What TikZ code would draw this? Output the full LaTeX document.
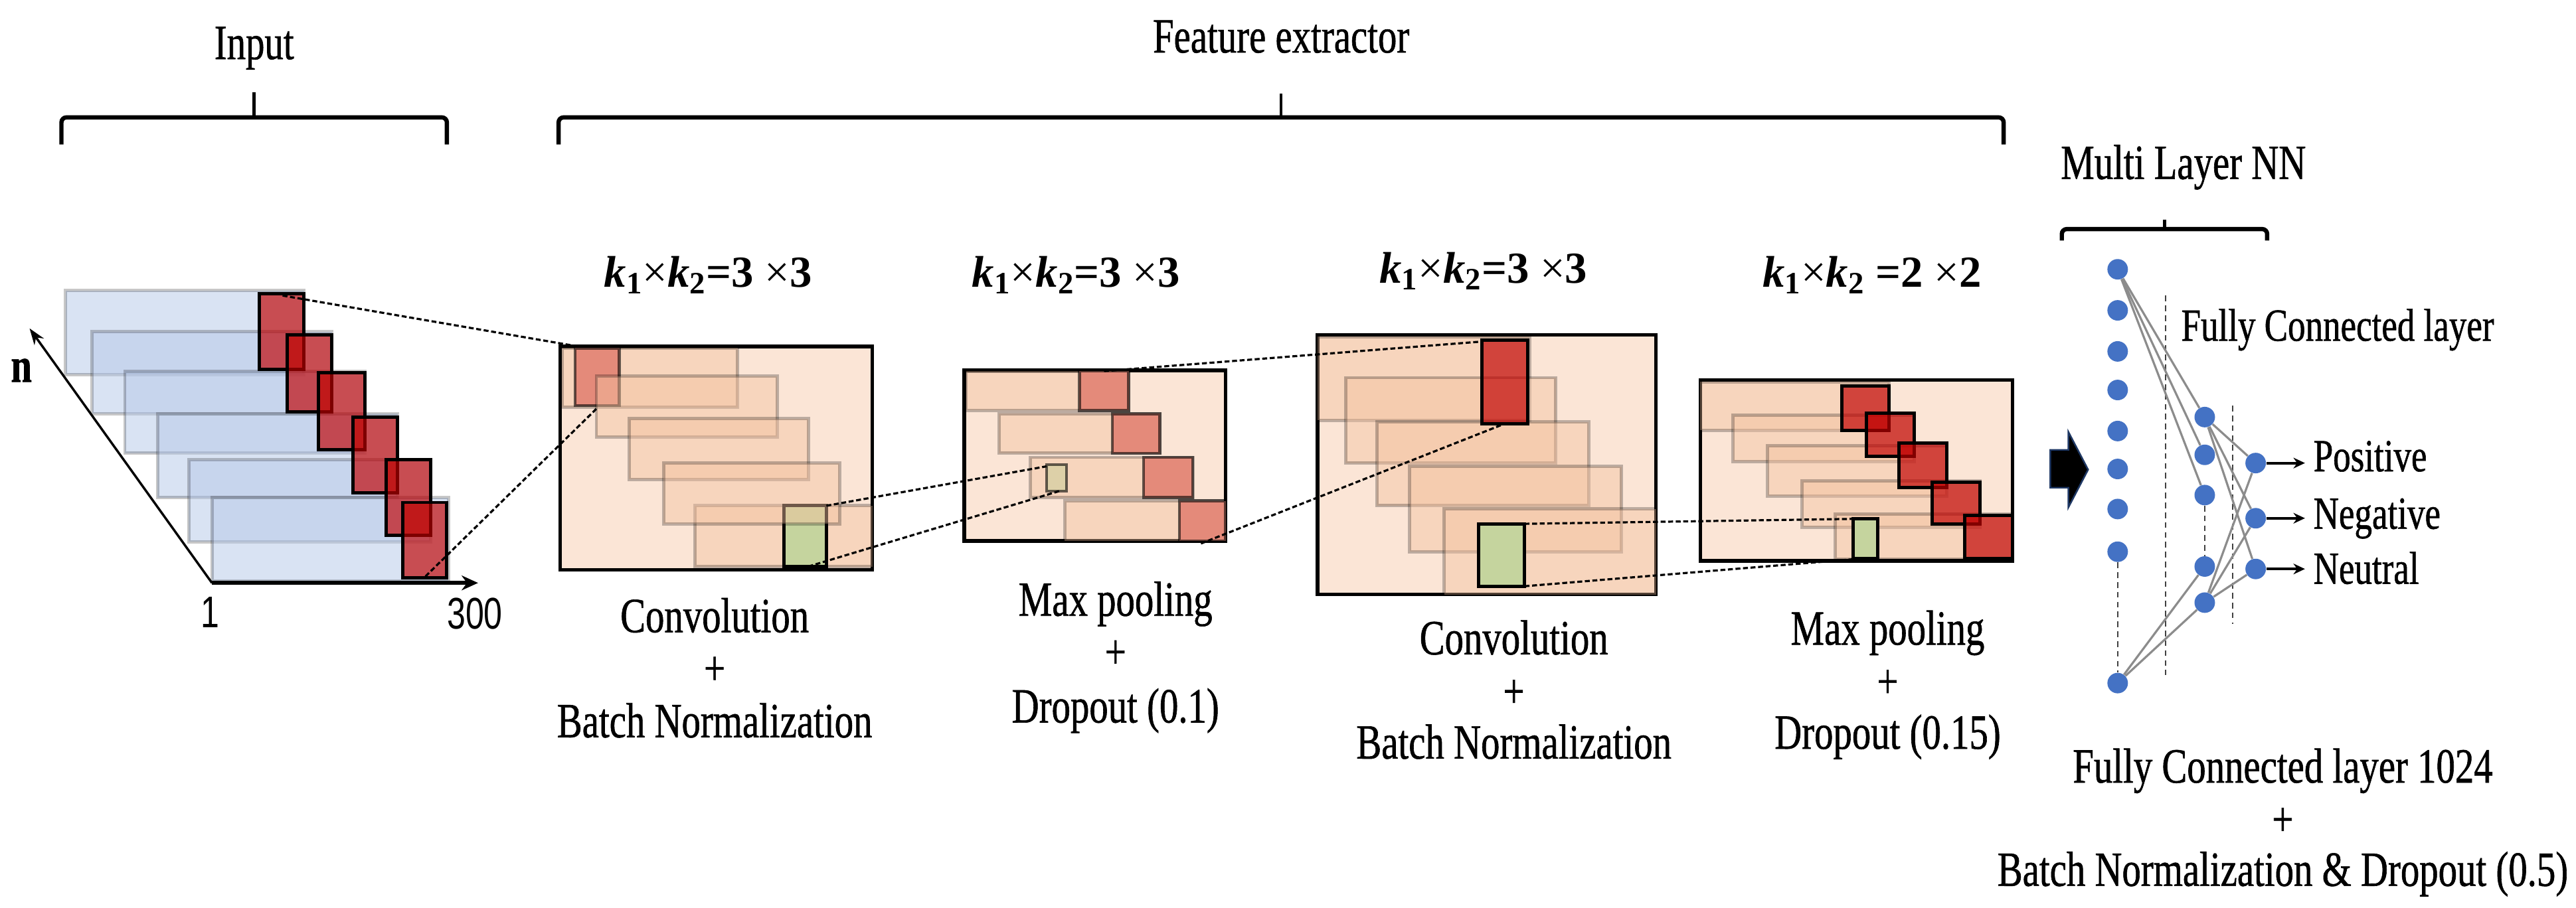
\documentclass[tikz,border=0pt]{standalone}
\usepackage{fontspec}
\setmainfont{Liberation Serif}[FakeStretch=0.765,FakeBold=0.8]
\newfontfamily\kfont{Liberation Serif}
\newfontfamily\axfont{Liberation Sans}[FakeStretch=0.75]
\usetikzlibrary{arrows.meta}
\definecolor{peach}{HTML}{FBE5D6}
\definecolor{tanfill}{HTML}{F4C2A0}
\definecolor{salmon}{RGB}{228,138,122}
\definecolor{leaf}{RGB}{197,212,158}
\definecolor{straw}{RGB}{221,208,168}
\definecolor{slabblue}{HTML}{B4C7E7}
\definecolor{nnblue}{HTML}{4472C4}
\definecolor{deepred}{HTML}{C00000}
\definecolor{navy}{HTML}{1F3864}
\definecolor{wiregray}{HTML}{8C8C8C}
\begin{document}
\begin{tikzpicture}[x=1pt,y=-1pt,
  lbl/.style={font=\fontsize{30}{32}\selectfont, anchor=base, inner sep=0pt},
  nnlbl/.style={font=\fontsize{28}{30}\selectfont, anchor=base west, inner sep=0pt},
  klbl/.style={font=\kfont\fontsize{27}{30}\selectfont, anchor=base, inner sep=0pt},
  axlbl/.style={font=\axfont\fontsize{27}{30}\selectfont, anchor=base, inner sep=0pt},
  brace/.style={line width=2.6pt, rounded corners=3pt},
  bracetick/.style={line width=1.8pt},
  inslab/.style={fill=slabblue, fill opacity=0.5, draw=black, draw opacity=0.22, line width=2pt},
  inred/.style={fill=deepred, fill opacity=0.66, draw=black, line width=2pt},
  fmap/.style={fill=peach, draw=black, line width=2.2pt},
  fslab/.style={fill=tanfill, fill opacity=0.45, draw=black, draw opacity=0.25, line width=2pt},
  pale/.style={fill=salmon, draw=black, draw opacity=0.6, line width=1.8pt},
  hot/.style={fill=deepred, fill opacity=0.68, draw=black, line width=2pt},
  grn/.style={fill=leaf, draw=black, line width=2pt},
  proj/.style={dash pattern=on 3pt off 1.6pt, line width=1.3pt},
  neuron/.style={circle, fill=nnblue, inner sep=0pt, minimum size=12.5pt},
  wire/.style={draw=wiregray, line width=1.3pt},
  guide/.style={draw=black!75, dash pattern=on 3.5pt off 2.5pt, line width=0.8pt},
  outarrow/.style={line width=1.5pt, -{Stealth[length=7pt,width=6.5pt]}},
]
\useasboundingbox (0,0) rectangle (1568,552.6);

% ---------- titles and brackets ----------
\node[lbl] (tin) at (154.7,36) {Input};
\node[lbl] (tfe) at (779.8,32) {Feature extractor};
\node[lbl] (tnn) at (1329,109) {Multi Layer NN};
\draw[brace] (37.4,88) -- (37.4,71.5) -- (272,71.5) -- (272,88);
\draw[bracetick] (154.7,71.5) -- (154.7,56);
\draw[brace] (340,88) -- (340,71.5) -- (1219.6,71.5) -- (1219.6,88);
\draw[bracetick] (779.8,71.5) -- (779.8,57);
\draw[brace] (1255,146.5) -- (1255,139.5) -- (1380,139.5) -- (1380,146.5);
\draw[bracetick] (1317.5,139.5) -- (1317.5,133.6);

% ---------- kernel labels ----------
\node[klbl] (k1) at (431,175) {\textbf{\textit{k}}\textsubscript{\textbf{1}}×\textbf{\textit{k}}\textsubscript{\textbf{2}}\textbf{=3} ×\textbf{3}};
\node[klbl] (k2) at (655,175) {\textbf{\textit{k}}\textsubscript{\textbf{1}}×\textbf{\textit{k}}\textsubscript{\textbf{2}}\textbf{=3} ×\textbf{3}};
\node[klbl] (k3) at (903,172.5) {\textbf{\textit{k}}\textsubscript{\textbf{1}}×\textbf{\textit{k}}\textsubscript{\textbf{2}}\textbf{=3} ×\textbf{3}};
\node[klbl] (k4) at (1139.5,175) {\textbf{\textit{k}}\textsubscript{\textbf{1}}×\textbf{\textit{k}}\textsubscript{\textbf{2}} \textbf{=2} ×\textbf{2}};

% ---------- input stack ----------
\draw[inslab] (40,177) rectangle (185,228);
\draw[inslab] (56,202) rectangle (202,252);
\draw[inslab] (76,226) rectangle (222,276);
\draw[inslab] (96,252) rectangle (242,303);
\draw[inslab] (115,280) rectangle (262,330);
\draw[inslab] (129,303) rectangle (273,354);
\draw[inred] (158,179) rectangle (185,225);
\draw[inred] (175,204) rectangle (202,251);
\draw[inred] (194,227) rectangle (222,274);
\draw[inred] (215,254) rectangle (242,300);
\draw[inred] (235,280) rectangle (262,326);
\draw[inred] (245,306) rectangle (272,352);
\coordinate (org) at (129,355);
\coordinate (xend) at (291,355);
\coordinate (nend) at (18,200);
\draw[line width=2.6pt, -{Stealth[length=10pt,width=9pt]}] (org) -- (xend);
\draw[line width=1.4pt, -{Stealth[length=10pt,width=7pt]}] (org) -- (nend);
\node[axlbl] (one) at (128,382) {1};
\node[axlbl] (three) at (289,383) {300};
\node[lbl] (nlab) at (13,232.6) {\textbf{n}};

% ---------- convolution 1 ----------
\draw[fmap] (341,211) rectangle (531,347);
\draw[fslab] (342,212) rectangle (449,248);
\draw[pale] (350,212) rectangle (377,247);
\draw[fslab] (363,229) rectangle (473,266);
\draw[fslab] (383,255) rectangle (492,292);
\draw[fslab] (423,308) rectangle (531,345);
\draw[grn] (477,308) rectangle (503,345);
\draw[fslab] (404,282) rectangle (511,319);

% ---------- max pooling 1 ----------
\draw[fmap] (587,225.6) rectangle (746,329.5);
\draw[fslab] (588,226) rectangle (687,250);
\draw[pale] (657,226) rectangle (687,250);
\draw[fslab] (608,252) rectangle (706,276);
\draw[pale] (677,252) rectangle (706,276);
\draw[fslab] (627,278.5) rectangle (726,303);
\draw[pale] (696,278.5) rectangle (726,303);
\draw[fslab] (648,305) rectangle (746,329.5);
\draw[pale] (718,305) rectangle (746,329.5);
\draw[fill=straw, draw=black, draw opacity=0.6, line width=1.6pt] (637,283) rectangle (649,299);

% ---------- convolution 2 ----------
\draw[fmap] (802,204) rectangle (1008,362);
\draw[fslab] (802,205) rectangle (931,256);
\draw[fslab] (819,230) rectangle (947,282);
\draw[fslab] (838,257) rectangle (967,308);
\draw[fslab] (858,284) rectangle (987,336);
\draw[fslab] (879,310) rectangle (1008,362);
\draw[hot] (902,207) rectangle (930,258);
\draw[grn] (900,319) rectangle (928,357);

% ---------- max pooling 2 ----------
\draw[fmap] (1035,231.5) rectangle (1225,341.6);
\draw[fslab] (1035,232.6) rectangle (1150,262);
\draw[fslab] (1055,253) rectangle (1165,281);
\draw[fslab] (1076,271.5) rectangle (1185,302);
\draw[fslab] (1097,293) rectangle (1205,321);
\draw[fslab] (1117,313) rectangle (1225,340.5);
\draw[hot] (1121,235) rectangle (1150,262);
\draw[hot] (1136,251.5) rectangle (1165,278);
\draw[hot] (1156,270) rectangle (1185,297);
\draw[hot] (1176,293.5) rectangle (1205,319);
\draw[hot] (1196,314) rectangle (1225,340);
\draw[grn] (1128,316) rectangle (1143,340);

% ---------- projection lines ----------
\coordinate (p1a) at (172,180);  \coordinate (p1b) at (352,211);
\coordinate (p2a) at (259,351);  \coordinate (p2b) at (364,248);
\coordinate (p3a) at (503,308);  \coordinate (p3b) at (637,284);
\coordinate (p4a) at (492,345);  \coordinate (p4b) at (645,299);
\coordinate (p5a) at (672,226);  \coordinate (p5b) at (902,208);
\coordinate (p6a) at (731,331);  \coordinate (p6b) at (916,258);
\coordinate (p7a) at (928,319);  \coordinate (p7b) at (1128,316);
\coordinate (p8a) at (928,357);  \coordinate (p8b) at (1135,340);
\foreach \k in {1,...,8} \draw[proj] (p\k a) -- (p\k b);

% ---------- stage captions ----------
\node[lbl] (c1a) at (435,385) {Convolution};
\node[lbl] (c1b) at (435,417) {+};
\node[lbl] (c1c) at (435,449) {Batch Normalization};
\node[lbl] (m1a) at (679,375) {Max pooling};
\node[lbl] (m1b) at (679,407) {+};
\node[lbl] (m1c) at (679,440) {Dropout (0.1)};
\node[lbl] (c2a) at (921.5,398.5) {Convolution};
\node[lbl] (c2b) at (921.5,431) {+};
\node[lbl] (c2c) at (921.5,462) {Batch Normalization};
\node[lbl] (m2a) at (1149,392.6) {Max pooling};
\node[lbl] (m2b) at (1149,425) {+};
\node[lbl] (m2c) at (1149,456) {Dropout (0.15)};
\node[lbl] (f1) at (1389.5,476.6) {Fully Connected layer 1024};
\node[lbl] (f2) at (1389.5,509) {+};
\node[lbl] (f3) at (1389.5,539.5) {Batch Normalization \& Dropout (0.5)};

% ---------- multi layer NN ----------
\draw[fill=black, draw=navy, line width=1pt] (1248,274) -- (1259,274) -- (1259,263) -- (1271,286) -- (1259,309) -- (1259,297) -- (1248,297) -- cycle;
\coordinate (g1a) at (1318,180); \coordinate (g1b) at (1318,411);
\coordinate (g2a) at (1359,247); \coordinate (g2b) at (1359,380);
\draw[guide] (g1a) -- (g1b);
\draw[guide] (g2a) -- (g2b);
\foreach \i/\y in {1/164,2/189,3/214,4/237.5,5/262.5,6/285.6,7/310,8/336,9/416}
  \node[neuron] (L\i) at (1289,\y) {};
\foreach \i/\y in {1/254,2/277,3/301.5,4/345,5/367}
  \node[neuron] (M\i) at (1342,\y) {};
\foreach \i/\y in {1/282,2/315.6,3/346.5}
  \node[neuron] (R\i) at (1373,\y) {};
\draw[guide] (L8) -- (L9);
\draw[guide] (M3) -- (M4);
\foreach \m in {1,2,3} \draw[wire] (L1) -- (M\m);
\foreach \m in {4,5} \draw[wire] (L9) -- (M\m);
\foreach \r in {1,2,3} {\draw[wire] (M1) -- (R\r); \draw[wire] (M5) -- (R\r);}
\coordinate (o1) at (1403,282);
\coordinate (o2) at (1403,315.6);
\coordinate (o3) at (1403,346.5);
\draw[outarrow] (R1) -- (o1);
\draw[outarrow] (R2) -- (o2);
\draw[outarrow] (R3) -- (o3);
\node[nnlbl] (pos) at (1408,287) {Positive};
\node[nnlbl] (neg) at (1408,322) {Negative};
\node[nnlbl] (neu) at (1408,355.5) {Neutral};
\node[nnlbl] (fcl) at (1327.5,207.5) {Fully Connected layer};
\end{tikzpicture}
\end{document}
